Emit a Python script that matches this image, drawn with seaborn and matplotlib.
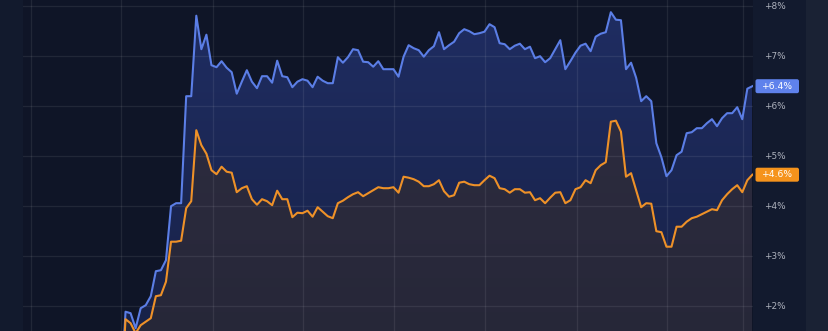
import numpy as np
import pandas as pd
import matplotlib
matplotlib.use("Agg")
import matplotlib.pyplot as plt
import seaborn as sns
from matplotlib.patches import Rectangle, Polygon, FancyBboxPatch
from matplotlib.colors import LinearSegmentedColormap
from matplotlib.transforms import IdentityTransform

# ---------------- data (percent change) ----------------
blue_pct = [0.00,
    1.88, 1.85, 1.55, 1.95, 2.01, 2.19, 2.69, 2.71, 2.91, 3.99,
    4.05, 4.05, 6.19, 6.19, 7.80, 7.13, 7.42, 6.81, 6.77, 6.89,
    6.76, 6.67, 6.24, 6.48, 6.71, 6.48, 6.35, 6.59, 6.59, 6.46,
    6.90, 6.59, 6.57, 6.37, 6.48, 6.53, 6.50, 6.37, 6.58, 6.50,
    6.45, 6.45, 6.97, 6.86, 6.97, 7.13, 7.11, 6.88, 6.87, 6.78,
    6.89, 6.73, 6.73, 6.73, 6.58, 6.98, 7.21, 7.15, 7.11, 6.98,
    7.11, 7.19, 7.47, 7.13, 7.21, 7.28, 7.45, 7.53, 7.49, 7.43,
    7.45, 7.48, 7.63, 7.57, 7.25, 7.23, 7.13, 7.20, 7.24, 7.13,
    7.18, 6.95, 6.99, 6.87, 6.95, 7.13, 7.31, 6.73, 6.89, 7.06,
    7.20, 7.24, 7.09, 7.38, 7.44, 7.47, 7.87, 7.72, 7.71, 6.73,
    6.86, 6.56, 6.09, 6.19, 6.09, 5.25, 4.97, 4.59, 4.71, 5.01,
    5.08, 5.45, 5.47, 5.55, 5.55, 5.65, 5.73, 5.59, 5.75, 5.85,
    5.85, 5.97, 5.73, 6.34, 6.39]
orange_pct = [0.00,
    1.73, 1.65, 1.45, 1.61, 1.68, 1.75, 2.19, 2.21, 2.48, 3.28,
    3.28, 3.30, 3.95, 4.09, 5.51, 5.21, 5.04, 4.71, 4.63, 4.78,
    4.68, 4.66, 4.27, 4.35, 4.39, 4.13, 4.02, 4.13, 4.09, 4.01,
    4.30, 4.13, 4.13, 3.77, 3.86, 3.85, 3.90, 3.78, 3.97, 3.88,
    3.79, 3.75, 4.05, 4.10, 4.17, 4.23, 4.27, 4.19, 4.25, 4.31,
    4.37, 4.35, 4.35, 4.37, 4.26, 4.58, 4.56, 4.53, 4.48, 4.39,
    4.39, 4.43, 4.51, 4.29, 4.18, 4.21, 4.46, 4.48, 4.43, 4.41,
    4.41, 4.51, 4.60, 4.55, 4.35, 4.33, 4.26, 4.33, 4.33, 4.26,
    4.27, 4.11, 4.15, 4.05, 4.16, 4.26, 4.27, 4.05, 4.11, 4.33,
    4.37, 4.51, 4.45, 4.71, 4.81, 4.87, 5.68, 5.70, 5.48, 4.58,
    4.65, 4.31, 3.97, 4.05, 4.04, 3.49, 3.47, 3.18, 3.18, 3.58,
    3.58, 3.68, 3.75, 3.78, 3.83, 3.88, 3.93, 3.91, 4.11, 4.23,
    4.33, 4.41, 4.27, 4.51, 4.62]
day = list(range(-1, len(blue_pct) - 1))
y_ticks = [2, 3, 4, 5, 6, 7, 8]
y_tick_labels = ["+2%", "+3%", "+4%", "+5%", "+6%", "+7%", "+8%"]
month_grid = [-18.7, -0.9, 17.3, 35.1, 53.1, 71.1, 89.3, 107.1, 122.2]
last_labels = ["+6.4%", "+4.6%"]

df = pd.DataFrame({"day": day, "blue": blue_pct, "orange": orange_pct})

# ---------------- style ----------------
BLUE = "#5b7ee6"
ORANGE = "#ee9128"
W, H = 829, 331
fig = plt.figure(figsize=(W / 100, H / 100), dpi=100)
fig.patch.set_facecolor("#1a2234")

# main panel (rounded top-right corner)
panel = FancyBboxPatch((-30, -30), 836, H + 30, boxstyle="round,pad=0,rounding_size=12",
                       transform=IdentityTransform(), facecolor="#111829",
                       edgecolor="none", zorder=-3)
fig.add_artist(panel)
fig.add_artist(Rectangle((0, 0), 23, H, transform=IdentityTransform(),
                         facecolor="#121a2d", edgecolor="none", zorder=-2))
fig.add_artist(Rectangle((753, 0), 53, H, transform=IdentityTransform(),
                         facecolor="#121a2e", edgecolor="none", zorder=-2))

ax = fig.add_axes([23 / W, 0, 730 / W, 1])
ax.set_zorder(1)
ax.set_facecolor("#0f1527")

YMIN, YMAX = 1.494, 8.114
XMIN, XMAX = -20.28, 124.12


def grad_fill(x, y, c_top, c_bot, z):
    xs = np.r_[x[0], x, x[-1]]
    ys = np.r_[YMIN - 1, y, YMIN - 1]
    poly = Polygon(np.column_stack([xs, ys]), closed=True, facecolor="none",
                   edgecolor="none")
    ax.add_patch(poly)
    cmap = LinearSegmentedColormap.from_list("g", [c_bot, c_top])
    im = ax.imshow(np.linspace(0, 1, 256).reshape(-1, 1), cmap=cmap, aspect="auto",
                   extent=[x[0], x[-1], YMIN - 1, 8.0], origin="lower", zorder=z,
                   interpolation="bilinear")
    im.set_clip_path(poly)


x = df["day"].to_numpy(float)
grad_fill(x, df["blue"].to_numpy(), "#1f2d62", "#172044", 1)
grad_fill(x, df["orange"].to_numpy(), "#302e42", "#252637", 2)

sns.lineplot(data=df, x="day", y="blue", color=BLUE, lw=1.5, ax=ax, zorder=4)
sns.lineplot(data=df, x="day", y="orange", color=ORANGE, lw=1.5, ax=ax, zorder=5)

ax.set_xlim(XMIN, XMAX)
ax.set_ylim(YMIN, YMAX)

# grid
for g in month_grid:
    ax.axvline(g, color="white", alpha=0.08, lw=0.9, zorder=3)
for t in y_ticks:
    ax.axhline(t, color="white", alpha=0.08, lw=0.9, zorder=3)

ax.set_xticks([])
ax.set_xlabel("")
ax.set_ylabel("")
ax.yaxis.tick_right()
ax.set_yticks(y_ticks)
ax.set_yticklabels(y_tick_labels)
ax.tick_params(axis="y", length=0, pad=8, labelsize=6.4, labelcolor="#aeb2bd")
for s in ax.spines.values():
    s.set_visible(False)

# last-value labels (rounded boxes placed at the last data value)
for val, lab, col in [(blue_pct[-1], last_labels[0], "#5f82ec"),
                      (orange_pct[-1], last_labels[1], "#f5931c")]:
    ypix = ax.transData.transform((0, val))[1]
    box = FancyBboxPatch((755.5, ypix - 7), 43.5, 14,
                         boxstyle="round,pad=0,rounding_size=2",
                         transform=IdentityTransform(), facecolor=col,
                         edgecolor="none", zorder=10)
    fig.add_artist(box)
    fig.text(777.3 / W, ypix / H, lab, ha="center", va="center",
             color="white", fontsize=6.6, zorder=11)

fig.savefig("out.png", dpi=100, facecolor=fig.get_facecolor())
